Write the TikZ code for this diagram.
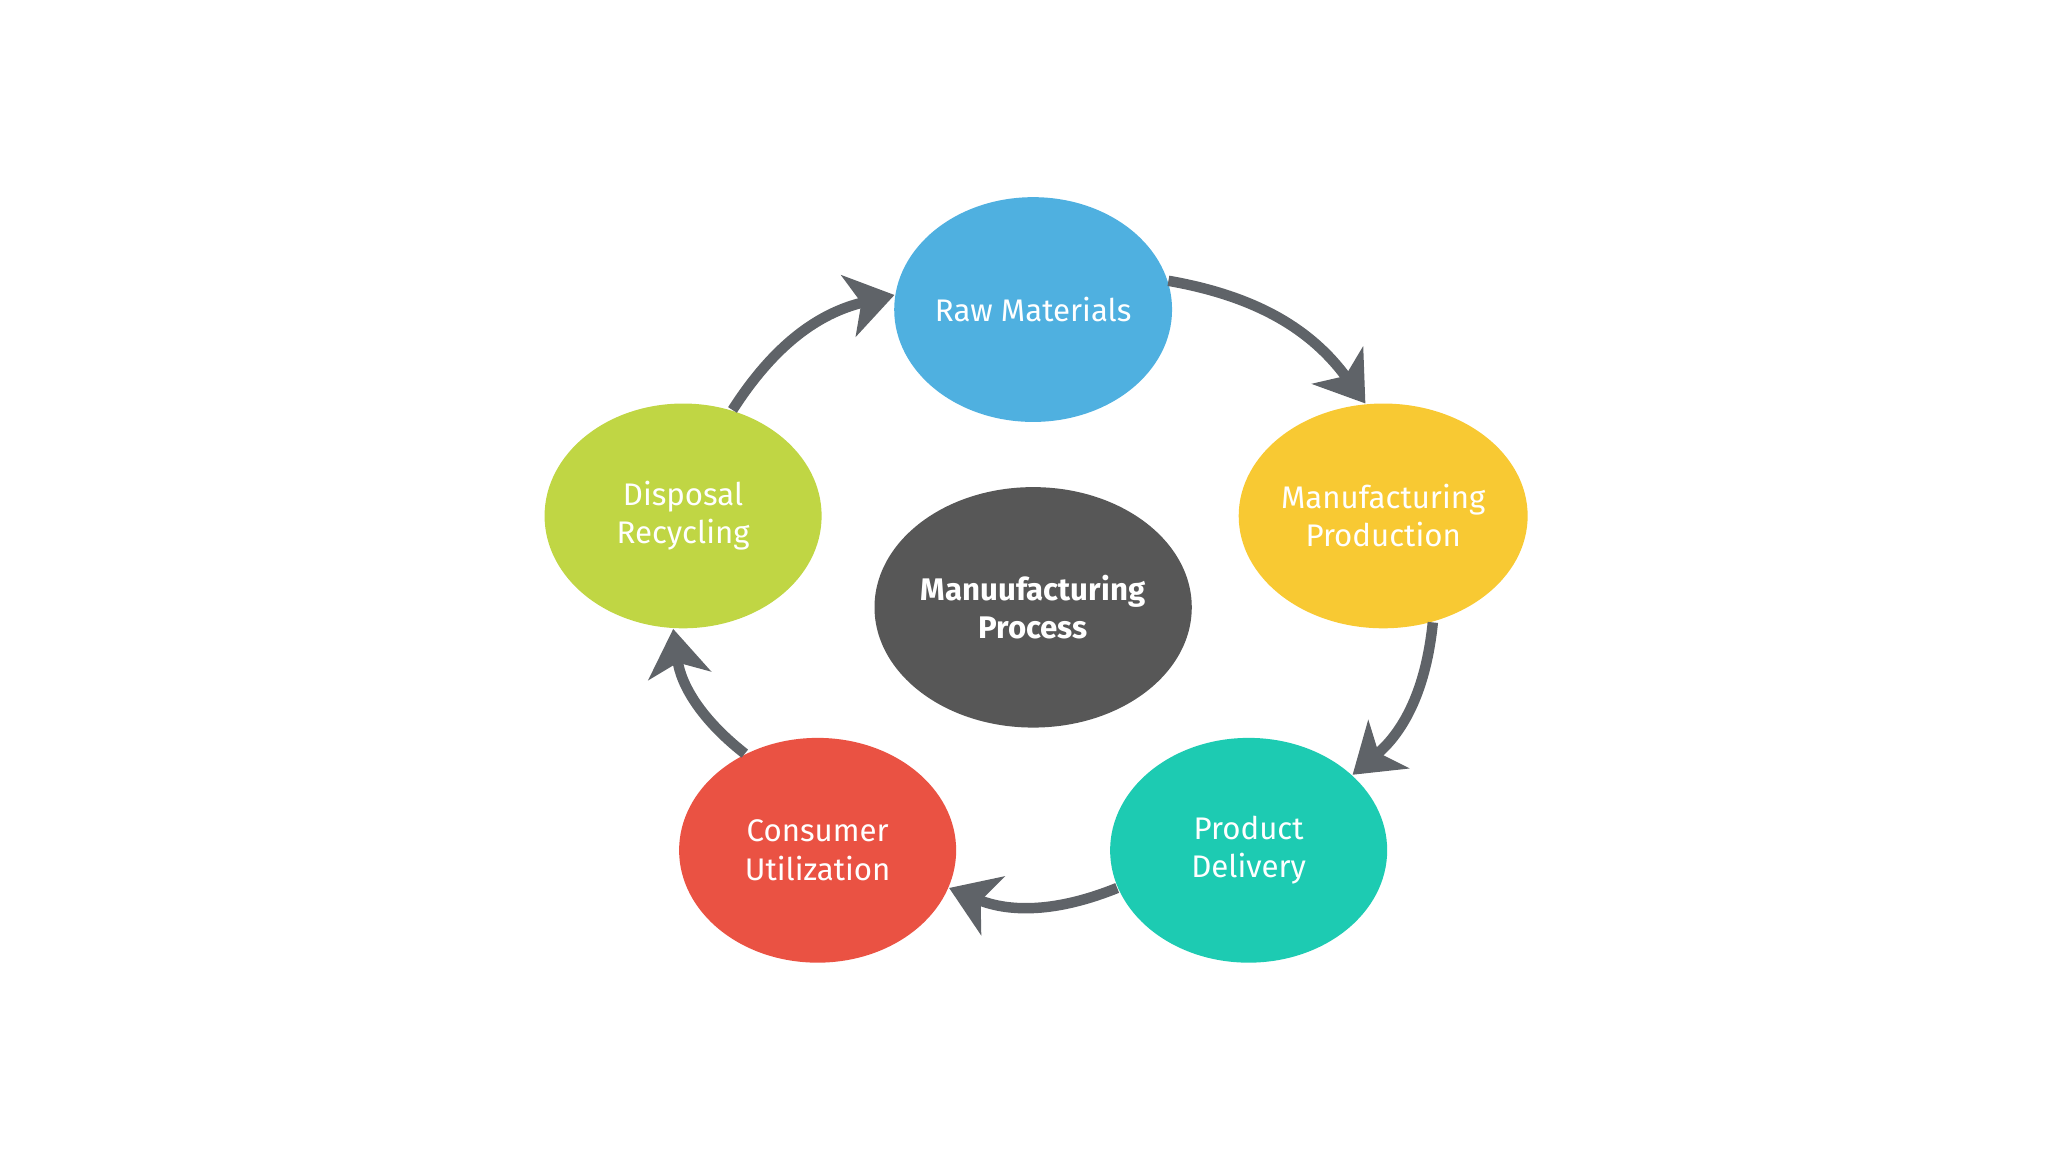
\documentclass[tikz,border=0pt]{standalone}
\usepackage{fontspec}
\setmainfont{Fira Sans}
\usetikzlibrary{arrows.meta,shapes.geometric}
\definecolor{cblue}{HTML}{4FB0E0}
\definecolor{cyel}{HTML}{F8C933}
\definecolor{cteal}{HTML}{1DCBB2}
\definecolor{cred}{HTML}{EA5243}
\definecolor{cgreen}{HTML}{C0D644}
\definecolor{cdark}{HTML}{575757}
\definecolor{carr}{HTML}{5F6368}
\begin{document}
\begin{tikzpicture}[x=0.01cm,y=-0.01cm,
  blob/.style={ellipse,draw=none,minimum width=2.12cm,minimum height=1.72cm,text=white,align=center,font=\fontsize{6.8}{8.3}\selectfont,inner sep=0pt},
  arr/.style={draw=carr,line width=0.08cm,-{Stealth[length=0.36cm,width=0.48cm,inset=0.1cm]},bend left=22}]
\useasboundingbox (0,0) rectangle (1568,882);
\node[blob,fill=cblue] (raw) at (791,237) {Raw Materials};
\node[blob,fill=cyel] (man) at (1059,395) {Manufacturing\\Production};
\node[blob,fill=cteal] (del) at (956,651) {Product\\Delivery};
\node[blob,fill=cred] (con) at (626,651) {Consumer\\Utilization};
\node[blob,fill=cgreen] (dis) at (523,395) {Disposal\\Recycling};
\node[blob,fill=cdark,minimum width=2.26cm,minimum height=1.84cm,font=\fontsize{6.8}{8.3}\selectfont\bfseries] (ctr) at (791,465) {Manuufacturing\\Process};
\draw[arr] (raw.12) to (man.99);
\draw[arr] (man.-65) to (del.36);
\draw[arr] (del.196) to (con.-16);
\draw[arr] (con.127) to (dis.-95);
\draw[arr] (dis.65) to (raw.174);
\end{tikzpicture}
\end{document}
